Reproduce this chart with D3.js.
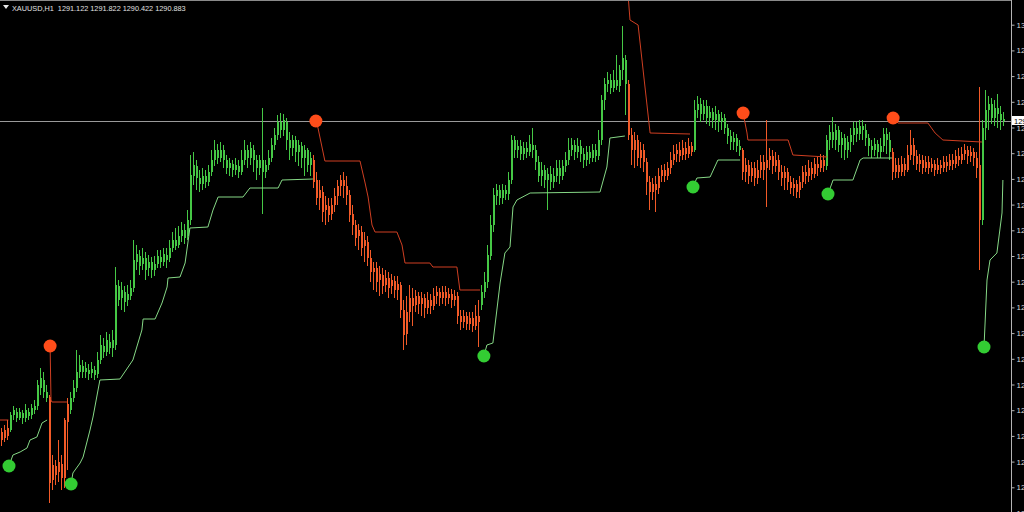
<!DOCTYPE html>
<html><head><meta charset="utf-8">
<script src="https://cdn.jsdelivr.net/npm/d3@7/dist/d3.min.js"></script>
<style>html,body{margin:0;padding:0;background:#000;overflow:hidden}svg{display:block}</style>
</head><body>
<svg id="c" width="1024" height="512"></svg>
<script>
const symbol = "XAUUSD,H1";
const lastQuote = ["1291.122","1291.822","1290.422","1290.883"];
const currentPrice = 1290.883;
const tickValues = [1300.53,1297.96,1295.39,1292.82,1290.25,1287.68,1285.11,1282.54,1279.97,1277.40,1274.83,1272.26,1269.69,1267.12,1264.55,1261.98,1259.41,1256.84,1254.27,1251.70];

const opens = [
1259.8,1259.2,1260.2,
1260.0,1261.5,1261.8,1261.2,1261.7,1261.2,1261.8,1261.5,1262.0,1262.4,1264.2,1265.0,1263.8,
1263.3,1255.0,1256.4,1255.8,1256.6,1255.2,1260.8,
1262.0,1263.2,1264.2,1265.8,1266.4,1265.8,1266.0,1265.7,1266.0,1265.6,
1267.0,1268.4,1267.8,1268.8,1268.2,1268.5,1274.4,1273.2,1273.8,1273.0,
1273.4,1274.2,1276.8,1277.4,1276.6,1277.2,1276.2,1276.8,1276.0,1276.6,
1277.3,1276.8,1277.5,1277.2,1278.2,1279.0,1278.5,1279.4,1280.0,1279.4,
1281.0,1285.4,1286.4,1285.2,1284.6,1285.4,1284.8,1285.8,1287.0,1288.0,
1287.2,1288.0,1287.0,1286.2,1286.6,1286.0,1286.4,1285.8,1287.0,1288.0,
1287.2,1288.0,1287.0,1286.2,1287.0,1285.8,1286.5,1287.2,1288.5,1289.5,
1290.8,1290.0,1290.8,1289.0,1288.2,1289.0,1287.8,1288.4,1287.2,1288.0,1286.5,
1287.0,1285.0,1283.2,1283.8,1282.0,1282.4,1281.6,1282.5,1283.4,1284.4,
1285.0,1284.4,1283.5,1281.6,1280.5,1279.4,1279.8,1278.4,1278.8,1277.2,
1275.8,1276.2,1275.0,1275.5,1274.5,1275.2,1274.4,1274.9,1274.0,1274.5,
1272.0,1269.6,1271.8,1273.2,1272.5,1273.4,1272.6,1273.2,1272.2,1273.0,
1272.4,1273.4,1273.8,1273.2,1273.8,1273.2,1273.6,1273.0,1273.4,1271.4,
1270.8,1271.4,1270.6,1271.2,1270.4,1271.4,
1272.5,1273.8,1274.8,1277.4,1280.5,1283.4,1284.0,1283.2,1284.0,1283.6,
1285.0,1289.0,1288.0,1288.4,1287.6,1288.2,1287.8,1288.5,1288.0,1286.8,
1285.4,1286.0,1285.0,1285.6,1284.8,1285.4,1286.2,1285.4,1286.4,1287.0,
1288.0,1288.5,1287.8,1288.4,1287.6,1287.0,1287.8,1287.2,1288.0,1287.4,
1289.0,1293.0,1294.6,1295.0,1294.2,1295.0,1294.4,1296.0,1297.0,
1294.6,1289.5,1288.0,1289.0,1287.2,1288.0,1286.8,1284.8,1283.8,1284.6,
1284.2,1285.4,1286.0,1285.4,1286.2,1287.0,1287.6,1288.0,1287.5,1288.2,1287.6,1288.4,
1288.0,1292.0,1292.6,1291.6,1292.4,1291.2,1291.8,1291.0,1291.6,1290.8,1291.2,1290.2,1289.4,1288.8,1289.2,1288.4,
1288.0,1285.8,1286.5,1285.4,1286.2,1285.2,1286.0,1286.8,1286.2,1287.0,
1287.4,1286.4,1287.0,1285.8,1285.2,1285.8,1284.8,1284.2,1284.6,1284.0,
1284.8,1285.8,1285.4,1286.2,1285.6,1286.6,1286.2,1287.0,
1286.4,1289.0,1289.8,1289.0,1290.0,1288.5,1289.2,1288.0,1288.8,1289.5,
1290.2,1289.6,1290.4,1290.0,1289.2,1288.4,1288.0,1288.6,1287.8,1288.4,1289.6,1289.0,
1287.8,1285.8,1286.5,1285.8,1286.6,1286.0,1287.5,1288.5,1287.4,1286.6,
1287.0,1286.2,1286.8,1286.2,1286.6,1286.0,1286.5,1286.2,1286.8,1286.4,
1287.0,1286.6,1287.4,1287.0,1287.6,1288.0,1287.4,1287.8,1287.2,1286.5,
1281.0,1290.2,1292.0,1292.6,1291.2,1292.2,1291.6,1291.12
];
const highs = [
1260.2,1260.5,1261.0,
1261.8,1262.4,1262.2,1262.2,1262.0,1262.6,1262.2,1262.6,1263.0,1265.0,1266.2,1265.8,1264.5,
1263.5,1257.5,1257.0,1259.0,1257.5,1261.2,1263.2,
1263.8,1265.0,1268.0,1267.5,1267.0,1266.8,1266.6,1266.8,1266.4,1267.8,
1269.5,1269.2,1269.8,1269.6,1270.0,1276.3,1275.0,1274.8,1274.4,1274.5,
1275.0,1279.0,1278.5,1278.0,1278.2,1277.8,1277.5,1277.3,1277.4,1278.0,
1278.0,1278.2,1278.2,1279.0,1279.8,1280.2,1280.4,1280.8,1280.6,1282.0,
1287.5,1287.8,1287.0,1286.0,1286.2,1286.0,1286.5,1288.0,1289.0,1288.6,
1288.8,1288.5,1287.5,1287.2,1287.0,1287.2,1287.0,1288.0,1289.0,1288.5,
1288.8,1288.5,1287.5,1287.5,1292.2,1287.0,1288.0,1289.2,1290.2,1291.5,
1291.7,1291.6,1291.2,1289.8,1289.5,1289.4,1289.0,1288.8,1288.5,1288.2,1287.8,
1287.5,1285.8,1285.0,1284.4,1283.4,1283.2,1283.2,1284.2,1285.0,1285.5,
1285.8,1285.4,1284.0,1282.5,1281.0,1280.6,1280.4,1279.8,1279.4,1278.0,
1276.8,1276.8,1276.4,1276.2,1276.0,1275.8,1275.6,1275.4,1275.4,1274.8,
1273.0,1273.4,1274.5,1274.2,1274.0,1273.8,1273.8,1273.6,1273.8,1273.6,
1274.2,1274.4,1274.2,1274.4,1274.4,1274.2,1274.1,1274.0,1273.8,1272.0,
1272.0,1271.8,1271.8,1271.8,1272.5,1273.0,
1274.5,1275.8,1278.5,1281.5,1284.2,1284.6,1284.5,1284.6,1284.5,1285.8,
1289.5,1289.4,1289.0,1289.0,1288.8,1288.8,1289.5,1290.2,1288.5,1287.4,
1286.8,1286.5,1286.2,1286.4,1286.2,1287.0,1287.0,1287.0,1287.8,1289.2,
1289.2,1289.0,1289.2,1289.0,1288.2,1288.4,1288.4,1288.6,1288.6,1290.0,
1293.5,1295.2,1295.8,1295.6,1296.0,1297.5,1296.5,1300.4,1297.5,
1295.0,1290.2,1289.8,1289.5,1288.8,1288.6,1287.2,1285.4,1285.2,1285.4,
1286.2,1286.5,1286.6,1286.8,1287.8,1288.5,1288.6,1288.8,1289.0,1288.8,1289.2,1288.8,
1293.0,1293.4,1293.2,1293.0,1293.0,1292.4,1292.2,1292.4,1292.0,1291.8,1291.6,1290.6,1290.0,1289.8,1289.6,1289.0,
1288.2,1287.2,1287.0,1286.8,1286.8,1287.0,1287.5,1287.5,1291.0,1288.2,
1288.0,1287.8,1287.5,1286.5,1286.4,1286.2,1285.4,1285.2,1285.0,1285.4,
1286.4,1286.5,1287.0,1286.8,1287.2,1287.4,1287.6,1287.5,
1289.5,1290.5,1291.3,1290.6,1290.4,1289.8,1289.6,1289.4,1290.2,1290.8,
1290.8,1291.0,1291.0,1290.6,1289.6,1289.0,1289.2,1289.0,1289.2,1290.2,1290.2,1289.8,
1288.2,1287.2,1287.2,1287.4,1287.2,1288.5,1290.0,1289.2,1288.0,1287.6,
1287.5,1287.4,1287.4,1287.2,1287.0,1287.2,1287.0,1287.4,1287.4,1287.6,
1287.6,1288.0,1288.2,1288.3,1288.6,1288.4,1288.4,1288.2,1287.8,1294.3,
1291.0,1294.0,1293.4,1293.2,1293.0,1293.6,1292.4,1291.82
];
const lows = [
1258.4,1258.8,1259.0,
1259.8,1261.0,1260.8,1261.0,1260.6,1260.8,1261.0,1261.1,1261.6,1262.0,1263.5,1263.2,1262.8,
1252.7,1254.0,1254.5,1254.8,1254.0,1254.2,1256.0,
1261.6,1262.8,1263.8,1265.2,1265.2,1265.2,1265.0,1265.2,1265.0,1265.2,
1266.6,1267.2,1267.4,1267.6,1267.3,1268.0,1272.4,1272.0,1271.8,1272.4,
1273.0,1273.8,1276.0,1275.5,1276.0,1275.0,1275.4,1275.2,1275.4,1276.2,
1276.2,1276.4,1276.2,1276.8,1277.8,1278.0,1278.2,1278.8,1278.6,1279.0,
1280.5,1284.5,1284.0,1283.8,1284.0,1284.2,1284.4,1285.4,1286.4,1286.6,
1286.8,1286.2,1285.6,1285.4,1285.3,1285.5,1285.2,1285.5,1286.5,1286.2,
1286.5,1285.8,1285.0,1285.5,1281.6,1285.2,1286.0,1286.8,1288.0,1289.0,
1289.2,1289.4,1288.0,1287.0,1287.4,1286.8,1286.4,1286.2,1285.4,1285.8,1285.4,
1284.2,1282.5,1282.0,1280.8,1280.5,1280.8,1281.0,1281.8,1282.5,1283.4,
1283.2,1282.5,1280.8,1279.5,1278.4,1278.0,1277.4,1276.8,1276.4,1274.8,
1274.0,1273.8,1273.4,1273.6,1273.8,1273.2,1273.6,1273.2,1273.0,1271.2,
1268.0,1268.5,1270.8,1270.4,1271.8,1271.6,1271.4,1271.2,1271.6,1271.6,
1272.0,1272.6,1272.4,1272.6,1272.4,1272.6,1272.2,1272.4,1270.6,1270.0,
1270.2,1270.0,1270.0,1269.8,1270.0,1268.3,
1272.0,1273.2,1274.2,1277.0,1279.8,1282.5,1282.5,1282.6,1283.0,1283.0,
1284.6,1287.2,1287.2,1287.0,1287.0,1287.2,1287.4,1287.2,1286.0,1284.8,
1284.4,1284.2,1282.0,1284.0,1284.2,1284.8,1284.6,1285.0,1285.8,1286.5,
1287.4,1287.0,1287.2,1286.8,1286.2,1286.4,1286.6,1286.8,1286.8,1287.0,
1288.5,1292.0,1293.8,1293.6,1293.8,1294.0,1293.8,1295.0,1291.5,
1289.0,1286.5,1286.2,1286.4,1286.2,1285.8,1283.5,1282.0,1283.0,1281.8,
1283.6,1284.8,1284.8,1285.0,1285.6,1286.5,1286.8,1286.8,1287.0,1287.0,1287.2,1287.4,
1287.8,1291.2,1290.8,1291.0,1290.6,1290.4,1290.2,1290.0,1289.8,1290.0,1289.6,1288.6,1288.0,1288.0,1287.8,1287.4,
1285.0,1284.8,1284.6,1284.8,1284.4,1284.6,1285.2,1285.0,1282.3,1286.0,
1285.6,1285.8,1285.0,1284.4,1284.0,1284.0,1283.6,1283.4,1283.2,1283.2,
1284.2,1284.6,1284.8,1285.0,1285.2,1285.4,1285.8,1285.8,
1286.0,1288.0,1288.2,1288.0,1287.8,1287.2,1287.0,1287.2,1287.8,1288.5,
1288.8,1289.0,1289.0,1288.4,1287.4,1287.2,1287.4,1287.2,1287.2,1287.8,1287.6,1287.0,
1285.0,1285.2,1285.2,1285.4,1285.4,1285.8,1287.0,1286.5,1286.0,1285.8,
1285.6,1285.8,1285.6,1285.8,1285.4,1285.6,1285.6,1285.8,1285.8,1286.0,
1286.0,1286.2,1286.4,1286.6,1287.0,1286.6,1286.8,1286.4,1285.2,1276.0,
1280.5,1289.0,1290.0,1290.6,1290.4,1290.2,1290.0,1290.42
];
const closes = [
1259.0,1260.0,1259.4,
1261.5,1262.0,1261.2,1261.8,1261.2,1262.0,1261.4,1262.2,1262.4,1264.5,1265.2,1263.8,1263.2,
1254.7,1256.5,1255.5,1256.8,1255.2,1261.0,1262.6,
1263.2,1264.2,1265.8,1266.5,1265.8,1266.2,1265.6,1266.1,1265.5,1267.0,
1268.5,1267.8,1269.0,1268.2,1269.0,1274.5,1273.0,1274.0,1272.8,1273.6,
1274.2,1277.0,1277.6,1276.4,1277.2,1276.0,1276.8,1276.0,1276.6,1277.4,
1276.8,1277.6,1277.0,1278.2,1279.0,1278.4,1279.4,1280.0,1279.2,1281.0,
1285.5,1286.5,1285.2,1284.6,1285.4,1284.8,1285.8,1287.0,1288.0,1287.2,
1288.0,1287.0,1286.2,1286.7,1286.0,1286.5,1285.8,1287.0,1288.0,1287.2,
1288.2,1287.0,1286.2,1287.0,1285.8,1286.5,1287.2,1288.5,1289.5,1290.8,
1290.0,1291.0,1289.0,1288.2,1289.0,1287.8,1288.5,1287.2,1288.0,1286.5,1287.2,
1284.8,1283.2,1284.0,1281.8,1282.5,1281.5,1282.5,1283.4,1284.4,1285.0,
1284.4,1283.5,1281.5,1280.5,1279.2,1280.0,1278.2,1279.0,1277.2,1275.8,
1276.2,1274.8,1275.6,1274.4,1275.2,1274.2,1275.0,1274.0,1274.6,1272.0,
1269.5,1271.8,1273.2,1272.4,1273.4,1272.6,1273.2,1272.2,1273.0,1272.4,
1273.4,1273.8,1273.2,1273.8,1273.2,1273.6,1273.0,1273.4,1271.4,1270.8,
1271.4,1270.6,1271.2,1270.4,1271.4,1270.8,
1273.8,1274.8,1277.5,1280.5,1283.5,1284.0,1283.2,1284.0,1283.6,1285.0,
1289.0,1288.0,1288.4,1287.6,1288.2,1287.8,1288.6,1288.0,1286.8,1285.4,
1286.0,1285.0,1285.6,1284.8,1285.4,1286.2,1285.4,1286.4,1287.0,1288.0,
1288.5,1287.8,1288.4,1287.6,1287.0,1287.8,1287.2,1288.0,1287.4,1289.0,
1293.0,1294.6,1295.0,1294.2,1295.0,1294.4,1296.0,1297.2,1294.6,
1289.5,1288.0,1289.0,1287.2,1288.0,1286.8,1284.8,1283.8,1284.6,1284.0,
1285.4,1286.0,1285.4,1286.2,1287.0,1287.6,1288.0,1287.4,1288.2,1287.6,1288.4,1287.8,
1292.0,1292.6,1291.6,1292.4,1291.2,1291.8,1291.0,1291.6,1290.8,1291.2,1290.2,1289.4,1288.8,1289.2,1288.4,1288.0,
1285.8,1286.5,1285.4,1286.2,1285.2,1286.0,1286.8,1286.0,1287.0,1287.4,
1286.4,1287.0,1285.8,1285.2,1285.8,1284.8,1284.2,1284.6,1283.8,1284.8,
1285.8,1285.4,1286.2,1285.6,1286.6,1286.2,1287.0,1286.4,
1289.0,1289.8,1289.0,1290.0,1288.5,1289.2,1288.0,1288.8,1289.5,1290.2,
1289.6,1290.4,1290.0,1289.2,1288.4,1288.0,1288.6,1287.8,1288.4,1289.6,1289.0,1287.8,
1285.8,1286.5,1285.8,1286.6,1286.0,1287.5,1288.5,1287.4,1286.6,1287.0,
1286.2,1286.8,1286.2,1286.6,1286.0,1286.5,1286.2,1286.8,1286.4,1287.0,
1286.6,1287.4,1287.0,1287.6,1288.0,1287.4,1287.8,1287.2,1286.2,1281.0,
1290.2,1292.0,1292.6,1291.2,1292.2,1291.6,1291.0,1290.88
];

// trend regimes: first bar index of each regime and its direction
const trendStarts = [0,3,16,23,104,160,209,231,247,275,297,327];
const trendDirs   = ["dn","up","dn","up","dn","up","dn","up","dn","up","dn","up"];

// trailing-stop lines (bar index, price)
const redStops = [
 [[-0.5,1261.0],[2.3,1261.0]],
 [[16.2,1268.4],[16.5,1263.0],[16.8,1262.8],[21.8,1262.8]],
 [[104.8,1290.9],[105.5,1290.2],[107.8,1286.9],[119.5,1286.9],[121.2,1284.7],[122.2,1283.3],[123.5,1280.5],[124.5,1279.8],[131.8,1279.8],[133.5,1278.5],[134.5,1276.7],[142.8,1276.7],[143.8,1276.3],[151.8,1276.3],[152.8,1274.0],[159.5,1274.0]],
 [[208.6,1304.5],[209.5,1301.0],[212.2,1300.5],[216.2,1289.7],[229.5,1289.6]],
 [[247.2,1291.7],[248.5,1289.7],[248.8,1289.0],[262.2,1289.0],[263.8,1287.5],[275.2,1287.3]],
 [[297.2,1291.2],[298.8,1290.7],[308.8,1290.7],[311.2,1289.7],[313.8,1289.0],[326.8,1288.8]]
];
const greenStops = [
 [[2.5,1256.4],[3.8,1257.5],[6.2,1257.8],[8.5,1258.2],[9.5,1259.0],[11.8,1259.3],[13.5,1260.7],[15.2,1261.0]],
 [[23.2,1254.6],[23.8,1255.7],[26.2,1256.7],[27.2,1257.3],[29.5,1260.0],[30.5,1261.3],[32.8,1265.0],[39.5,1265.1],[43.8,1267.0],[46.8,1270.0],[47.2,1271.1],[51.2,1271.1],[53.5,1272.7],[55.2,1274.3],[55.5,1275.2],[59.5,1275.3],[61.2,1276.7],[62.8,1280.2],[68.8,1280.3],[70.5,1282.0],[72.2,1283.3],[80.5,1283.3],[82.8,1284.2],[92.2,1284.2],[93.5,1285.0],[103.8,1285.1]],
 [[160.8,1267.4],[161.8,1268.5],[163.8,1268.7],[166.2,1274.7],[167.8,1277.7],[169.5,1278.3],[170.5,1282.3],[171.8,1283.0],[176.2,1283.7],[199.5,1283.8],[201.8,1286.3],[202.8,1289.2],[207.8,1289.4]],
 [[230.5,1284.3],[231.8,1285.2],[236.2,1285.3],[238.8,1287.0],[246.2,1287.0]],
 [[275.5,1283.6],[277.2,1285.0],[283.8,1285.0],[286.2,1287.0],[287.2,1287.2],[296.8,1287.2]],
 [[327.5,1268.3],[328.5,1275.0],[329.5,1277.0],[331.8,1277.7],[333.5,1281.7],[333.8,1285.0]]
];
const greenDots = [[2.5,1256.4],[23.2,1254.6],[160.8,1267.4],[230.5,1284.3],[275.5,1283.6],[327.5,1268.3]];
const redDots   = [[16.2,1268.4],[104.8,1290.9],[247.2,1291.7],[297.2,1291.2]];

const W = 1024, H = 512, axisX = 1011;
const COL = {up:"#46c846", dn:"#f25a28", gLine:"#86d886", rLine:"#cf3f22", gDot:"#33cc33", rDot:"#ff4d1a", grid:"#b4b4b4", text:"#d8d8d8"};

const n = Math.min(opens.length, highs.length, lows.length, closes.length);
const x = d3.scaleLinear().domain([0, 334]).range([1.5, 1003.5]);
const y = d3.scaleLinear().domain([1303, 1251.8]).range([0, H]);

function trendAt(i){ let d = trendDirs[0]; trendStarts.forEach((s,k)=>{ if(i>=s) d = trendDirs[k]; }); return d; }

const svg = d3.select("#c");
svg.append("rect").attr("width",W).attr("height",H).attr("fill","#000");
svg.append("defs").append("clipPath").attr("id","plot").append("rect").attr("x",0).attr("y",0).attr("width",axisX).attr("height",H);

const plot = svg.append("g").attr("clip-path","url(#plot)");

// current price line
const py = Math.round(y(currentPrice)) + 0.5;
plot.append("line").attr("x1",0).attr("x2",axisX).attr("y1",py).attr("y2",py).attr("stroke","#9a9a9a").attr("stroke-width",1);

// candles
const bars = d3.range(n).map(i=>({i,o:opens[i],h:highs[i],l:lows[i],c:closes[i],t:trendAt(i)}));
const cg = plot.append("g").attr("shape-rendering","crispEdges");
cg.selectAll("line.w").data(bars).join("line").attr("class","w")
  .attr("x1",d=>Math.floor(x(d.i))+0.5).attr("x2",d=>Math.floor(x(d.i))+0.5)
  .attr("y1",d=>y(d.h)).attr("y2",d=>y(d.l))
  .attr("stroke",d=>COL[d.t]).attr("stroke-width",1);
cg.selectAll("rect.b").data(bars).join("rect").attr("class","b")
  .attr("x",d=>Math.floor(x(d.i))-0.5).attr("width",2)
  .attr("y",d=>Math.min(y(d.o),y(d.c)))
  .attr("height",d=>Math.max(1,Math.abs(y(d.o)-y(d.c))))
  .attr("fill",d=>COL[d.t]);

// trailing stops
const ln = d3.line().x(d=>x(d[0])).y(d=>y(d[1]));
plot.selectAll("path.rs").data(redStops).join("path").attr("class","rs").attr("d",ln)
  .attr("fill","none").attr("stroke",COL.rLine).attr("stroke-width",1);
plot.selectAll("path.gs").data(greenStops).join("path").attr("class","gs").attr("d",ln)
  .attr("fill","none").attr("stroke",COL.gLine).attr("stroke-width",1);

// signal dots
plot.selectAll("circle.gd").data(greenDots).join("circle").attr("class","gd")
  .attr("cx",d=>x(d[0])).attr("cy",d=>y(d[1])).attr("r",6.5).attr("fill",COL.gDot);
plot.selectAll("circle.rd").data(redDots).join("circle").attr("class","rd")
  .attr("cx",d=>x(d[0])).attr("cy",d=>y(d[1])).attr("r",6.5).attr("fill",COL.rDot);

// top border
svg.append("line").attr("x1",0).attr("x2",axisX).attr("y1",0.5).attr("y2",0.5).attr("stroke","#8a8a8a");

// right price axis
const axis = d3.axisRight(y).tickValues(tickValues).tickSize(3).tickPadding(2).tickFormat(d3.format(".2f"));
const ag = svg.append("g").attr("transform",`translate(${axisX+0.5},0)`).call(axis);
ag.select(".domain").attr("stroke",COL.grid).attr("d",`M0,0V${H}`);
ag.selectAll(".tick line").attr("stroke",COL.grid);
ag.selectAll(".tick text").attr("fill",COL.text).attr("font-family","Liberation Sans, Arial, sans-serif").attr("font-size","8px");

// current price box
svg.append("rect").attr("x",axisX+1).attr("y",py-5.5).attr("width",40).attr("height",9).attr("fill","#fff");
svg.append("text").attr("x",axisX+3).attr("y",py+2).attr("font-family","Liberation Sans, Arial, sans-serif")
  .attr("font-size","7.5px").attr("fill","#000").text(d3.format(".2f")(currentPrice));

// header
svg.append("path").attr("d","M3,5 L9,5 L6,9 Z").attr("fill","#e8e8e8");
svg.append("text").attr("x",12).attr("y",10.5).attr("font-family","Liberation Sans, Arial, sans-serif")
  .attr("font-size","7.3px").attr("fill","#e0e0e0").attr("xml:space","preserve")
  .text(symbol + "  " + lastQuote.join(" "));
</script>
</body></html>
